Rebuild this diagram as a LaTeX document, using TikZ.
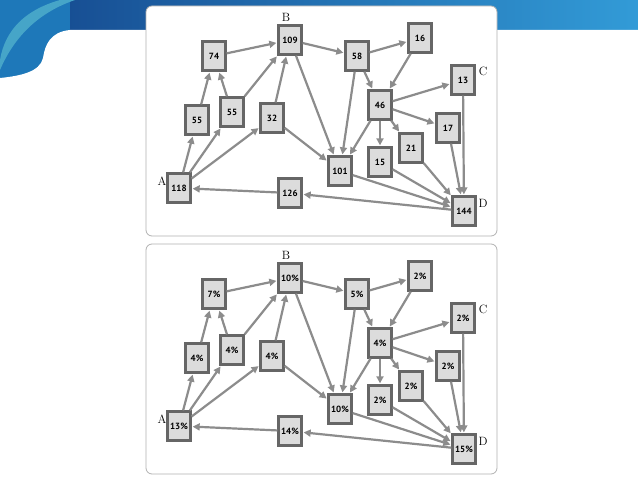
\documentclass[tikz,border=0pt]{standalone}
\usepackage{fontspec}
\newfontfamily\boxfont{PT Sans}
\usetikzlibrary{arrows.meta}
\definecolor{edge}{HTML}{8C8C8C}
\definecolor{bord}{HTML}{666666}
\definecolor{boxf}{HTML}{DCDCDC}
\definecolor{bandL}{RGB}{20,70,140}
\definecolor{bandR}{RGB}{50,155,215}
\definecolor{swA}{RGB}{30,120,185}
\definecolor{swB}{RGB}{70,165,200}
\tikzset{
 bx/.style={draw=bord,line width=2.3pt,fill=boxf,minimum width=23pt,minimum height=29pt,inner sep=0pt,font=\boxfont\bfseries\fontsize{9}{9}\selectfont},
 ar/.style={draw=edge,line width=2.2pt,-{Triangle[length=7pt,width=7pt]},shorten >=1pt},
 lab/.style={font=\fontsize{12}{12}\selectfont},
 panel/.style={draw=gray!60,line width=0.8pt,rounded corners=6pt,fill=white}
}
\newcommand\graphpanel[3]{%
 \begin{scope}[shift={(0,#1)}]
 \draw[panel] (146,6) rectangle (497,236);
 \foreach \n/\x/\y/\t [count=\i] in {#3}{\node[bx] (#2\n) at (\x,\y) {\t};}
 \foreach \a/\b in {A/La,A/M,A/T,La/S,M/S,M/B,S/B,T/B,T/O,B/O,B/F,F/G,F/H,G/H,F/O,H/O,H/C,H/Q,H/R,H/P,C/D,Q/D,R/D,P/D,O/D,D/K,K/A}{\draw[ar] (#2\a) -- (#2\b);}
 \node[lab] at (162,181) {A};
 \node[lab] at (286,17) {B};
 \node[lab] at (483,71) {C};
 \node[lab] at (483,203) {D};
 \end{scope}}
\begin{document}
\begin{tikzpicture}[x=1pt,y=-1pt]
\useasboundingbox (0,0) rectangle (638,478);
\shade[left color=bandL,right color=bandR] (0,0) rectangle (638,30);
\fill[swA] (0,0) rectangle (70,80);
\fill[swB] (0,60) .. controls (5,30) and (25,10) .. (60,0) -- (75,0) .. controls (40,12) and (15,35) .. (0,70) -- cycle;
\fill[white] (638,30) -- (70,30) .. controls (50,32) and (45,45) .. (43,58) .. controls (40,72) and (20,76) .. (0,78) -- (0,478) -- (638,478) -- cycle;
\graphpanel{0}{t}{A/179/188/118,La/197/120/55,S/214/56/74,M/232/112/55,T/272/118/32,B/290/40/109,F/357/56/58,G/420/38/16,H/380/105/46,C/463/80/13,Q/448/128/17,R/411/148/21,P/380/162/15,O/340/171/101,K/290/193/126,D/464/211/144}
\graphpanel{238}{b}{A/179/188/13\%,La/197/120/4\%,S/214/56/7\%,M/232/112/4\%,T/272/118/4\%,B/290/40/10\%,F/357/56/5\%,G/420/38/2\%,H/380/105/4\%,C/463/80/2\%,Q/448/128/2\%,R/411/148/2\%,P/380/162/2\%,O/340/171/10\%,K/290/193/14\%,D/464/211/15\%}
\end{tikzpicture}
\end{document}
